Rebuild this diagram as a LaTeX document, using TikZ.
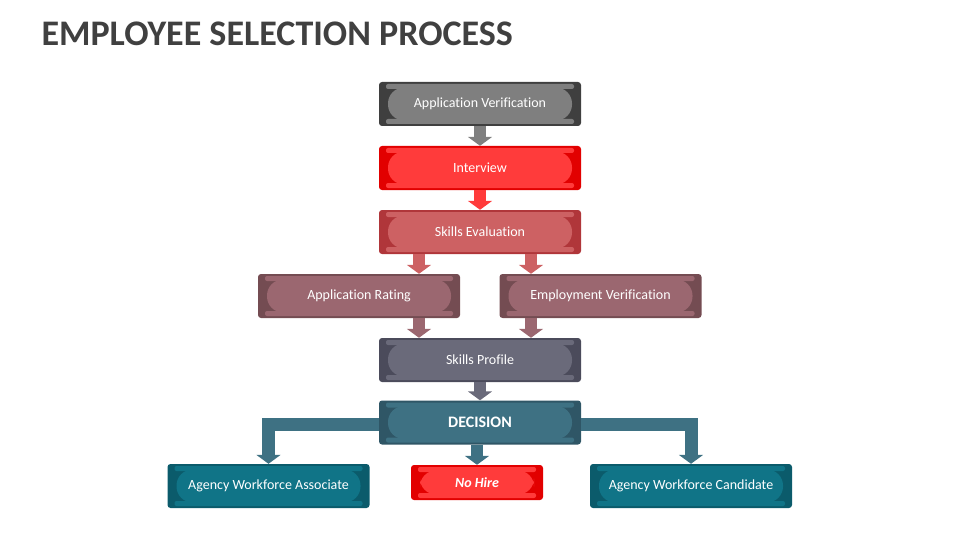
\documentclass[tikz,border=0pt]{standalone}
\usepackage{fontspec}
\setmainfont{Carlito}[Ligatures=NoCommon]
\usetikzlibrary{arrows.meta,calc}
\definecolor{titlec}{HTML}{404040}
\definecolor{avO}{HTML}{3F3F3F}\definecolor{avI}{HTML}{7F7F7F}
\definecolor{rdO}{HTML}{E20000}\definecolor{rdI}{HTML}{FF3B3B}
\definecolor{seO}{HTML}{B0363A}\definecolor{seI}{HTML}{CD6163}
\definecolor{arO}{HTML}{744C52}\definecolor{arI}{HTML}{9B6770}
\definecolor{spO}{HTML}{4B4B5B}\definecolor{spI}{HTML}{6A6A7A}
\definecolor{dcO}{HTML}{2F5666}\definecolor{dcI}{HTML}{3E7183}
\definecolor{awO}{HTML}{0B5B6B}\definecolor{awI}{HTML}{107487}
\tikzset{
  procbox/.style n args={2}{draw=none, fill=#1, rounded corners=3pt,
    minimum width=202pt, minimum height=44pt, text=white,
    font=\fontsize{14}{16}\selectfont, inner sep=0pt,
    path picture={
      \path (path picture bounding box.south west) coordinate (bbsw)
            (path picture bounding box.north east) coordinate (bbne);
      \fill[#2, rounded corners=2pt] ([shift={(7pt,-2pt)}]bbsw |- bbne) rectangle ([shift={(-7pt,-7pt)}]bbne);
      \fill[#2, rounded corners=2pt] ([shift={(7pt,2pt)}]bbsw) rectangle ([shift={(-7pt,7pt)}]bbne |- bbsw);
      \fill[#2, rounded corners=16pt] ([shift={(9pt,5.5pt)}]bbsw) rectangle ([shift={(-9pt,-5.5pt)}]bbne);
    }},
  blockarrow/.style={draw=#1, line width=12pt, line cap=butt, line join=miter,
    -{Triangle[width=24pt,length=9pt,color=#1]}},
}
\begin{document}
\begin{tikzpicture}[x=1pt,y=-1pt]
\useasboundingbox (0,0) rectangle (960,540);
\node[anchor=base west, text=titlec, font=\fontsize{36}{40}\selectfont\bfseries] (title) at (38,46) {EMPLOYEE SELECTION PROCESS};

\node[procbox={avO}{avI}] (av) at (480,104) {Application Verification};
\node[procbox={rdO}{rdI}] (iv) at (480,168) {Interview};
\node[procbox={seO}{seI}] (se) at (480,232) {Skills Evaluation};
\node[procbox={arO}{arI}] (ar) at (359,296) {Application Rating};
\node[procbox={arO}{arI}] (ev) at (600.5,296) {Employment Verification};
\node[procbox={spO}{spI}] (sp) at (480,360) {Skills Profile};
\node[procbox={dcO}{dcI}, font=\fontsize{16}{18}\selectfont\bfseries] (dc) at (480,422.5) {DECISION};
\node[procbox={awO}{awI}] (wa) at (268.5,486) {Agency Workforce Associate};
\node[procbox={rdO}{rdI}, minimum width=132pt, minimum height=35pt, font=\fontsize{14}{16}\selectfont\bfseries\itshape] (nh) at (477,482.5) {No Hire};
\node[procbox={awO}{awI}] (wc) at (691,486) {Agency Workforce Candidate};

\coordinate (lx) at (419,0);
\coordinate (rx) at (531,0);

\draw[blockarrow=avI] (av.south) -- (iv.north);
\draw[blockarrow=rdI] (iv.south) -- (se.north);
\draw[blockarrow=seI] (se.south -| lx) -- (ar.north -| lx);
\draw[blockarrow=seI] (se.south -| rx) -- (ev.north -| rx);
\draw[blockarrow=arI] (ar.south -| lx) -- (sp.north -| lx);
\draw[blockarrow=arI] (ev.south -| rx) -- (sp.north -| rx);
\draw[blockarrow=spI] (sp.south) -- (dc.north);
\draw[blockarrow=dcI] (dc.south -| nh.north) -- (nh.north);
\draw[blockarrow=dcI, line width=13pt] ([yshift=-2pt]dc.west) -| (wa.north);
\draw[blockarrow=dcI, line width=13pt] ([yshift=-2pt]dc.east) -| (wc.north);
\end{tikzpicture}
\end{document}
